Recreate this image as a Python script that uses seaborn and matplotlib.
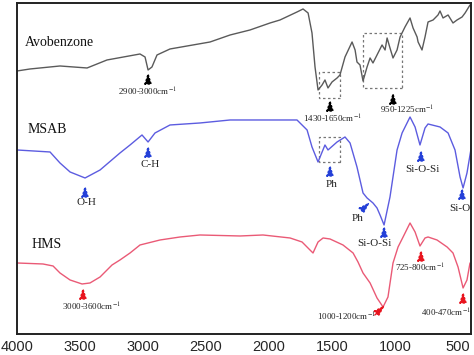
import numpy as np
import pandas as pd
import matplotlib
matplotlib.use('Agg')
import matplotlib.pyplot as plt
import seaborn as sns
from matplotlib.ticker import MultipleLocator
from matplotlib.patches import Rectangle

# FTIR spectra (wavenumber cm-1, offset transmittance in arbitrary units)
avo_wn = [4000, 3897, 3659, 3444, 3286, 3024, 2984, 2960, 2929, 2889, 2786, 2468, 2309,
          2151, 1992, 1913, 1778, 1730, 1690, 1659, 1635, 1611, 1579, 1556, 1532, 1500,
          1460, 1437, 1397, 1341, 1317, 1302, 1278, 1254, 1222, 1198, 1175, 1143, 1103,
          1079, 1063, 1040, 1016, 984, 960, 921, 881, 857, 825, 817, 786, 762, 738, 698,
          659, 643, 619, 579, 540, 508, 468, 444, 405]
avo_t = [263, 265, 268, 266, 274, 280, 277, 264, 267, 279, 285, 292, 299,
         304, 311, 314, 322, 325, 321, 301, 267, 244, 249, 254, 246, 252,
         256, 259, 277, 292, 284, 272, 269, 253, 267, 276, 271, 279, 289,
         284, 296, 286, 276, 284, 297, 307, 316, 306, 297, 292, 284, 297, 312, 314,
         319, 323, 316, 319, 311, 314, 317, 321, 329]

msab_wn = [4000, 3738, 3659, 3579, 3460, 3341, 3183, 3103, 3008, 2960, 2905, 2786, 2548,
           2309, 1778, 1698, 1659, 1611, 1556, 1532, 1460, 1397, 1357, 1302, 1254, 1222,
           1175, 1143, 1119, 1087, 1040, 984, 944, 881, 841, 802, 762, 738, 643, 579,
           524, 484, 460, 429, 389]
msab_t = [184, 182, 171, 162, 156, 164, 181, 189, 199, 192, 201, 209, 211,
          214, 214, 204, 187, 172, 189, 184, 192, 197, 191, 167, 141, 136,
          131, 126, 119, 109, 137, 184, 201, 217, 207, 189, 206, 210, 207, 201,
          184, 157, 146, 161, 191]

hms_wn = [4000, 3794, 3714, 3659, 3579, 3484, 3421, 3341, 3246, 3183, 3103, 3024, 2865,
          2706, 2548, 2230, 2048, 1833, 1738, 1675, 1651, 1611, 1571, 1516, 1413, 1333,
          1294, 1254, 1198, 1143, 1095, 1056, 1016, 976, 936, 881, 841, 802, 762, 738,
          667, 587, 540, 500, 460, 429, 405]
hms_t = [71, 70, 68, 61, 54, 50, 51, 57, 69, 74, 81, 89, 94,
         97, 99, 98, 99, 96, 92, 84, 81, 92, 96, 95, 89, 81,
         72, 61, 51, 36, 27, 37, 71, 87, 97, 111, 102, 88, 96, 97,
         94, 87, 81, 67, 46, 54, 71]

sample_names = ['Avobenzone', 'MSAB', 'HMS']
line_colors = ['#5a5a5a', '#5c5ce0', '#ea5a76']

# band labels: text, text position, arrow tip, arrow tail, colour
band_text = ['2900-3000cm$^{-1}$', '1430-1650cm$^{-1}$', '950-1225cm$^{-1}$',
             'C-H', 'O-H', 'Ph', 'Ph', 'Si-O-Si', 'Si-O-Si', 'Si-O',
             '3000-3600cm$^{-1}$', '725-800cm$^{-1}$', '400-470cm$^{-1}$', '1000-1200cm$^{-1}$']
band_text_xy = [(2968, 242), (1500, 215), (905, 224),
                (2944, 169), (3452, 131), (1500, 149), (1294, 115), (1167, 90), (786, 164), (484, 125),
                (3405, 27), (802, 66), (595, 21), (1389, 17)]
band_tip = [(2960, 262), (1516, 235), (1016, 242),
            (2960, 189), (3460, 149), (1516, 170), (1198, 132), (1087, 109), (794, 185), (468, 147),
            (3476, 47), (794, 85), (460, 43), (1079, 29)]
band_tail = [(2960, 253), (1516, 226), (1016, 234),
             (2960, 180), (3460, 140), (1516, 161), (1255, 125), (1087, 100), (794, 176), (468, 138),
             (3476, 38), (794, 76), (460, 34), (1160, 19)]
band_color = ['black'] * 3 + ['#2440d8'] * 7 + ['#e8141e'] * 4
band_size = [6.5, 6.5, 6.5, 8, 8, 8, 8, 8, 8, 8, 6.5, 6.5, 6.5, 6.5]

# dotted boxes: (wn_hi, wn_lo, t_lo, t_hi)
boxes = [(1603, 1437, 236, 262), (1254, 944, 246, 301), (1603, 1437, 172, 197)]

sns.set_style('white')
plt.rcParams['font.family'] = ['Liberation Serif', 'DejaVu Serif']
plt.rcParams['mathtext.fontset'] = 'stix'

fig = plt.figure(figsize=(4.74, 3.55), dpi=100)
ax = fig.add_axes([0.0359, 0.0592, 0.9578, 0.9324])

for wn, t, c in zip([avo_wn, msab_wn, hms_wn], [avo_t, msab_t, hms_t], line_colors):
    df = pd.DataFrame({'wn': wn, 't': t})
    sns.lineplot(data=df, x='wn', y='t', color=c, linewidth=1.0, ax=ax, estimator=None)

for (hi, lo, b, t) in boxes:
    ax.add_patch(Rectangle((lo, b), hi - lo, t - b, fill=False, ec='#777777',
                           ls=(0, (2, 2)), lw=0.9))

for txt, txy, tip, tail, c, fs in zip(band_text, band_text_xy, band_tip, band_tail,
                                      band_color, band_size):
    ax.annotate('', xy=tip, xytext=tail,
                arrowprops=dict(arrowstyle='-|>,head_length=0.7,head_width=0.22',
                                color=c, lw=1.0, ls=':', shrinkA=0, shrinkB=0))
    ax.text(txy[0], txy[1], txt, ha='center', va='center', fontsize=fs, color='#222222')

label_y = [291, 204, 89]
label_x = [3937, 3913, 3881]
for name, x, y in zip(sample_names, label_x, label_y):
    ax.text(x, y, name, ha='left', va='center', fontsize=10, color='#111111')

ax.set_xlim(4000, 397)
ax.set_ylim(0, 331)
ax.set_xlabel('')
ax.set_ylabel('')
ax.set_yticks([])
ax.xaxis.set_major_locator(MultipleLocator(500))
ax.xaxis.set_minor_locator(MultipleLocator(250))
ax.tick_params(axis='x', which='major', direction='in', length=4, width=1.2,
               labelsize=10.5, pad=4, top=False)
ax.tick_params(axis='x', which='minor', direction='in', length=2.5, width=1.0, top=False)
for lab in ax.get_xticklabels():
    lab.set_family(['Liberation Sans', 'DejaVu Sans'])
for sp in ax.spines.values():
    sp.set_linewidth(1.4)
    sp.set_color('#222222')

fig.savefig('out.png', dpi=100)
